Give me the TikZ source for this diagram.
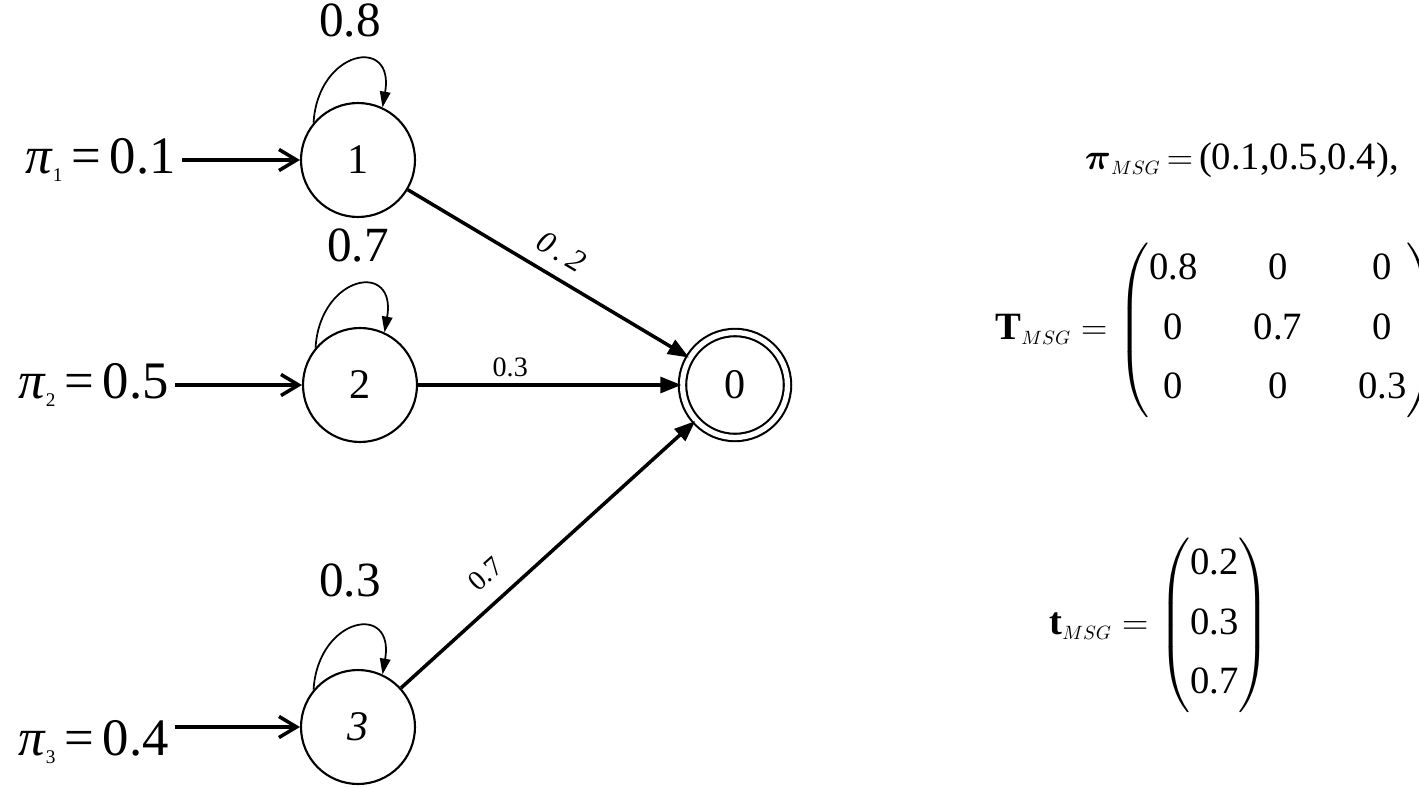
\documentclass[tikz,border=0pt]{standalone}
\usepackage{amsmath}
\usepackage{fontspec}
\setmainfont{Liberation Serif}
\usetikzlibrary{arrows.meta}
\newcommand{\tx}[1]{\text{#1}}
\begin{document}
\begin{tikzpicture}[x=0.02cm,y=-0.02cm,
  st/.style={circle,draw,line width=1.2pt,minimum size=2.28cm,inner sep=0pt,font=\fontsize{24}{28}\selectfont},
  ed/.style={line width=2pt,-{Triangle[length=12pt,width=9pt]}},
  inarr/.style={line width=2pt,-{Straight Barb[length=10pt,width=12pt]}},
  lp/.style={line width=1pt,-{Triangle[length=9pt,width=6pt]}},
  big/.style={font=\fontsize{28}{32}\selectfont},
  pil/.style={font=\fontsize{30}{36}\selectfont},
  sm/.style={font=\fontsize{16}{18}\selectfont},
  mx/.style={font=\fontsize{22}{26}\selectfont}]
\useasboundingbox (0,0) rectangle (1419,787);
\setlength\arraycolsep{16pt}
\node[st] (n1) at (358,160) {1};
\node[st] (n2) at (360,385) {2};
\node[st] (n3) at (358,727) {\itshape 3};
\node[st,double,double distance=3pt,minimum size=2.1cm] (n0) at (735,385) {0};
\draw[lp] (n1.140) .. controls (318,50) and (395,35) .. (n1.65);
\draw[lp] (n2.140) .. controls (320,275) and (397,260) .. (n2.65);
\draw[lp] (n3.140) .. controls (318,617) and (395,602) .. (n3.65);
\node[big] (l1) at (350,20) {0.8};
\node[big] (l2) at (358,245) {0.7};
\node[big] (l3) at (350,580) {0.3};
\node[pil,anchor=east] (p1) at (182,160) {\textit{π}\raisebox{-5pt}{\fontsize{11}{12}\selectfont 1}\,=\,0.1};
\node[pil,anchor=east] (p2) at (175,385) {\textit{π}\raisebox{-5pt}{\fontsize{11}{12}\selectfont 2}\,=\,0.5};
\node[pil,anchor=east] (p3) at (175,742) {\textit{π}\raisebox{-5pt}{\fontsize{11}{12}\selectfont 3}\,=\,0.4};
\draw[inarr] (p1.east) -- (n1);
\draw[inarr] (p2.east |- n2) -- (n2);
\draw[inarr] (p3.east |- n3) -- (n3);
\draw[ed] (n1) -- node[sloped,above=4pt,font=\fontsize{18}{20}\selectfont\itshape] {0\,.\,2} (n0);
\draw[ed] (n2) -- node[sm,above,pos=0.35] {0.3} (n0);
\draw[ed] (n3) -- node[sm,sloped,above=6pt,pos=0.35] {0.7} (n0);
\node[mx,anchor=east] (pi) at (1405,160) {$\boldsymbol{\pi}_{\scriptscriptstyle MSG}\,\mathbf{=}\,\tx{(0.1,0.5,0.4),}$};
\node[mx] (T) at (1225,330) {$\mathbf{T}_{\scriptscriptstyle MSG} = \left(\begin{matrix} \tx{0.8} & \tx{0} & \tx{0}\\[8pt] \tx{0} & \tx{0.7} & \tx{0}\\[8pt] \tx{0} & \tx{0} & \tx{0.3}\end{matrix}\right)\tx{,}$};
\node[mx] (t) at (1160,625) {$\mathbf{t}_{\scriptscriptstyle MSG} = \left(\begin{matrix} \tx{0.2}\\[8pt] \tx{0.3}\\[8pt] \tx{0.7}\end{matrix}\right)$};
\end{tikzpicture}
\end{document}
